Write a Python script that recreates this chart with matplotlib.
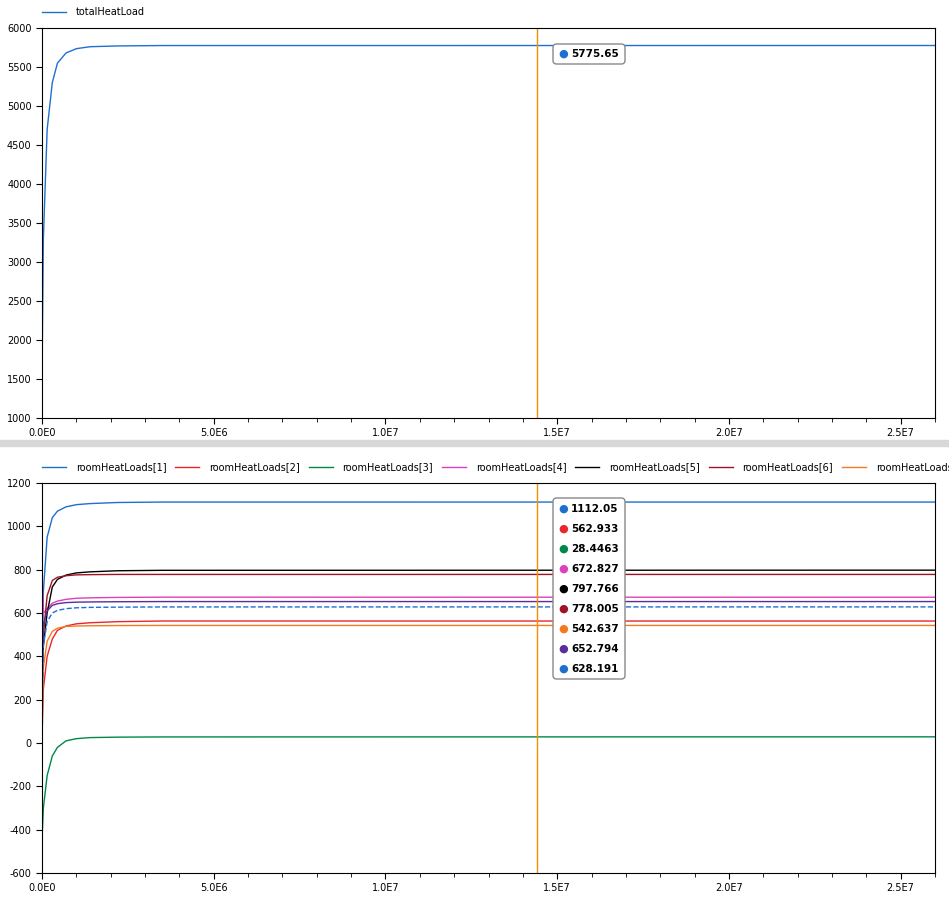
import numpy as np
import matplotlib.pyplot as plt
from matplotlib.patches import FancyBboxPatch
from matplotlib.ticker import MultipleLocator, FuncFormatter

plt.rcParams['axes.unicode_minus'] = False

# time samples (s)
t = np.array([0, 0.04, 0.15, 0.3, 0.45, 0.7, 1.0, 1.4, 2.2, 3.5, 26.0]) * 1e6

total = [1500, 3300, 4700, 5300, 5550, 5680, 5735, 5760, 5770, 5775, 5775.65]

rooms = [
    [200, 700, 950, 1040, 1070, 1090, 1100, 1105, 1110, 1112, 1112.05],
    [20, 250, 400, 480, 520, 540, 550, 555, 560, 563, 562.933],
    [-450, -300, -150, -60, -20, 10, 20, 25, 27, 28, 28.4463],
    [800, 600, 620, 645, 655, 663, 668, 670, 672, 673, 672.827],
    [330, 450, 600, 720, 755, 775, 785, 790, 795, 797, 797.766],
    [450, 500, 680, 750, 765, 772, 776, 777, 778, 778, 778.005],
    [100, 350, 470, 515, 530, 538, 540, 541, 542, 542.6, 542.637],
    [250, 550, 610, 635, 643, 648, 650, 651, 652, 652.8, 652.794],
    [100, 450, 560, 600, 612, 620, 624, 626, 627, 628, 628.191],
]
room_names = ['roomHeatLoads[%d]' % (i + 1) for i in range(9)]
room_final = ['1112.05', '562.933', '28.4463', '672.827', '797.766',
              '778.005', '542.637', '652.794', '628.191']
colors = ['#1f6fcf', '#e8262b', '#00874a', '#dd3fbf', '#000000',
          '#9e1424', '#f47a20', '#5a2d9c', '#1f6fcf']
styles = ['-'] * 8 + ['--']
cursor_t = 1.442e7

W, H = 949, 897
fig = plt.figure(figsize=(W / 100, H / 100), dpi=100)


def fx(px):
    return px / W


def fy(py):
    return 1 - py / H


def sci(v, pos):
    if v <= 0:
        return '0.0E0'
    e = int(np.floor(np.log10(v) + 1e-9))
    return '%.1fE%d' % (v / 10 ** e, e)


def style_axes(ax, ylo, yhi, ystep):
    ax.set_xlim(0, 2.6e7)
    ax.set_ylim(ylo, yhi)
    ax.xaxis.set_major_locator(MultipleLocator(5e6))
    ax.xaxis.set_minor_locator(MultipleLocator(1e6))
    ax.yaxis.set_major_locator(MultipleLocator(ystep))
    ax.xaxis.set_major_formatter(FuncFormatter(sci))
    ax.tick_params(labelsize=7, length=4, width=0.8)
    ax.tick_params(which='minor', length=3)
    ax.axvline(cursor_t, color='#f39200', lw=1)


def tooltip(x, y0, y1):
    fig.add_artist(FancyBboxPatch((fx(x), fy(y1)), fx(72), fy(y0) - fy(y1),
                                  boxstyle='round,pad=0,rounding_size=0.004',
                                  fc='white', ec='#888888', lw=1))


ax1 = fig.add_axes([fx(42), fy(418), fx(935 - 42), fy(28) - fy(418)])
ax1.plot(t, total, color='#1f6fcf', lw=1)
style_axes(ax1, 1000, 6000, 500)
fig.add_artist(plt.Line2D([fx(42), fx(66)], [fy(12)] * 2, color='#1f6fcf', lw=1))
fig.text(fx(76), fy(12), 'totalHeatLoad', fontsize=7, va='center')
tooltip(553, 44, 64)
fig.text(fx(558), fy(54), '\u25cf', color='#1f6fcf', fontsize=8, va='center')
fig.text(fx(571), fy(54), '5775.65', fontsize=7.5, weight='bold', va='center')

# separator
fig.add_artist(plt.Rectangle((0, fy(446)), 1, fy(440) - fy(446), color='#d8d8d8'))

ax2 = fig.add_axes([fx(42), fy(873), fx(935 - 42), fy(483) - fy(873)])
for vals, c, ls in zip(rooms, colors, styles):
    ax2.plot(t, vals, color=c, lw=1, ls=ls)
style_axes(ax2, -600, 1200, 200)

for i, (name, c) in enumerate(zip(room_names, colors)):
    x0 = 42 + i * 133.3
    fig.add_artist(plt.Line2D([fx(x0), fx(x0 + 24)], [fy(467)] * 2, color=c, lw=1, ls=styles[i]))
    fig.text(fx(x0 + 34), fy(467), name, fontsize=7, va='center')

tooltip(553, 498, 679)
for i, (v, c) in enumerate(zip(room_final, colors)):
    yy = 509 + i * 20
    fig.text(fx(558), fy(yy), '\u25cf', color=c, fontsize=8, va='center')
    fig.text(fx(571), fy(yy), v, fontsize=7.5, weight='bold', va='center')

fig.savefig('out.png', dpi=100)
